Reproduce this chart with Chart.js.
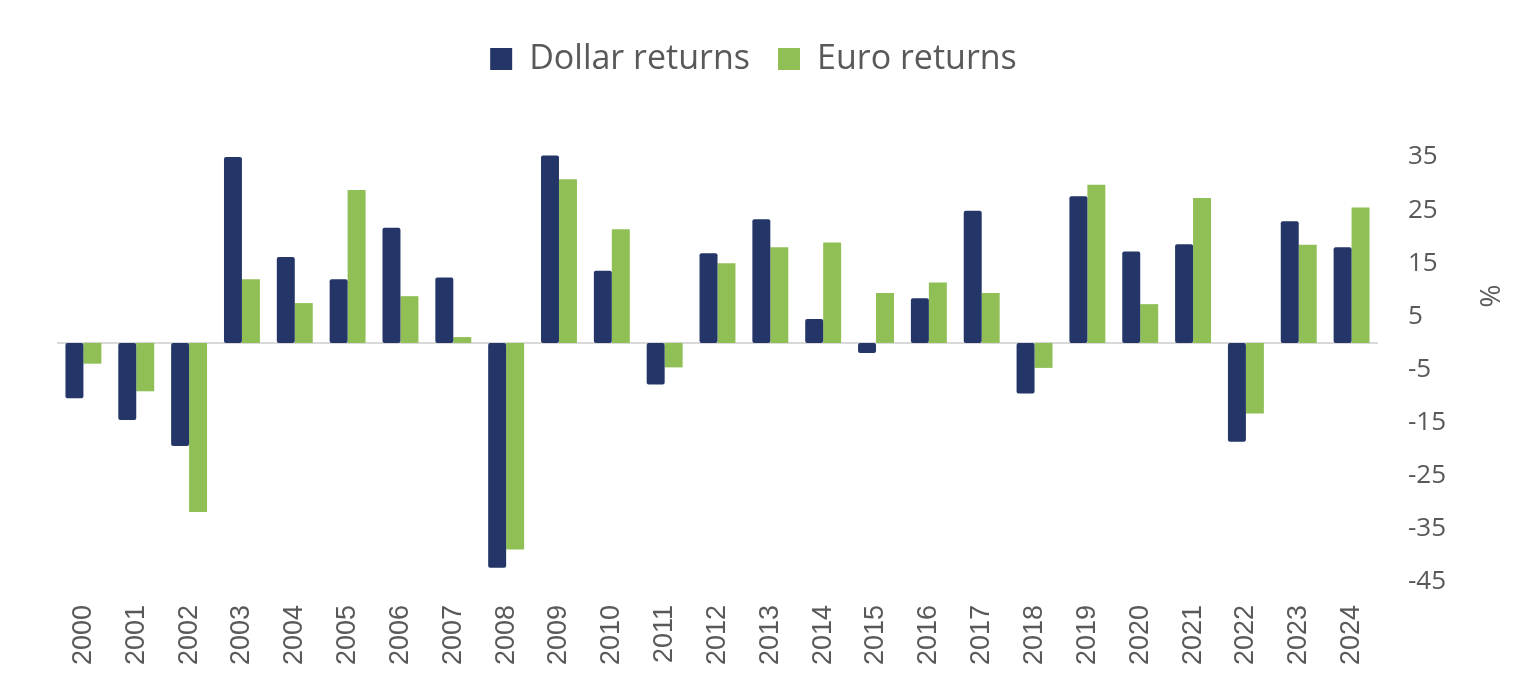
<!DOCTYPE html>
<html>
<head>
<meta charset="utf-8">
<script src="https://cdn.jsdelivr.net/npm/chart.js@4/dist/chart.umd.min.js"></script>
<style>
    html, body { margin: 0; padding: 0; background: #ffffff; }
    #wrap { width: 1536px; height: 698px; }
</style>
</head>
<body>
<div id="wrap"><canvas id="returnsChart"></canvas></div>
<script>
// Data
const years = ['2000', '2001', '2002', '2003', '2004', '2005', '2006', '2007', '2008', '2009',
    '2010', '2011', '2012', '2013', '2014', '2015', '2016', '2017', '2018', '2019',
    '2020', '2021', '2022', '2023', '2024'];
const dollarReturns = [-10.4, -14.5, -19.4, 35.0, 16.2, 12.0, 21.7, 12.3, -42.3, 35.3,
    13.6, -7.8, 16.9, 23.3, 4.5, -1.9, 8.4, 24.9, -9.5, 27.6,
    17.2, 18.6, -18.6, 22.9, 18.0];
const euroReturns = [-3.9, -9.1, -31.8, 12.0, 7.5, 28.8, 8.8, 1.1, -38.9, 30.8,
    21.4, -4.6, 15.0, 18.0, 18.9, 9.4, 11.4, 9.4, -4.7, 29.8,
    7.3, 27.3, -13.3, 18.5, 25.5];
const yTicks = [35, 25, 15, 5, -5, -15, -25, -35, -45];

const navy = '#243668';
const green = '#8fbf55';
const textGrey = '#595959';

// Push the plot area down below the legend
const legendSpacer = {
    id: 'legendSpacer',
    beforeInit(chart) {
        const originalFit = chart.legend.fit;
        chart.legend.fit = function fit() {
            originalFit.bind(chart.legend)();
            this.height = 143;
        };
    }
};

// Zero line and the "%" axis title
const zeroLine = {
    id: 'zeroLine',
    beforeDatasetsDraw(chart) {
        const { ctx, chartArea, scales } = chart;
        const y = scales.y.getPixelForValue(0);
        ctx.save();
        ctx.strokeStyle = '#d9d9d9';
        ctx.lineWidth = 2;
        ctx.beginPath();
        ctx.moveTo(chartArea.left, y);
        ctx.lineTo(chartArea.right, y);
        ctx.stroke();
        ctx.restore();
    },
    afterDraw(chart) {
        const { ctx, scales } = chart;
        ctx.save();
        ctx.translate(scales.y.right + 38, scales.y.getPixelForValue(8.8));
        ctx.rotate(Math.PI / 2);
        ctx.fillStyle = textGrey;
        ctx.font = '28px "Open Sans"';
        ctx.textAlign = 'center';
        ctx.textBaseline = 'middle';
        ctx.fillText('%', 0, 0);
        ctx.restore();
    }
};

const ctx = document.getElementById('returnsChart').getContext('2d');
const chart = new Chart(ctx, {
    type: 'bar',
    data: {
        labels: years,
        datasets: [{
            label: 'Dollar returns',
            data: dollarReturns,
            backgroundColor: navy,
            borderRadius: 2,
            borderSkipped: false,
            categoryPercentage: 0.68,
            barPercentage: 1.0,
            clip: false
        }, {
            label: 'Euro returns',
            data: euroReturns,
            backgroundColor: green,
            borderRadius: 0,
            categoryPercentage: 0.68,
            barPercentage: 1.0,
            clip: false
        }]
    },
    options: {
        responsive: true,
        maintainAspectRatio: false,
        animation: false,
        layout: {
            padding: { top: 14, left: 57, right: 86, bottom: 0 }
        },
        plugins: {
            legend: {
                position: 'top',
                labels: {
                    boxWidth: 22,
                    boxHeight: 22,
                    padding: 28,
                    color: textGrey,
                    font: { family: '"Open Sans"', size: 34 }
                }
            },
            tooltip: { enabled: false }
        },
        scales: {
            x: {
                grid: { display: false, drawTicks: false },
                border: { display: false },
                ticks: {
                    color: textGrey,
                    font: { family: '"Liberation Sans"', size: 27 },
                    minRotation: 90,
                    maxRotation: 90,
                    padding: 23,
                    autoSkip: false
                },
                afterFit(scale) {
                    scale.height = 116;
                }
            },
            y: {
                position: 'right',
                min: -45,
                max: 35,
                grid: { display: false, drawTicks: false },
                border: { display: false },
                afterBuildTicks(scale) {
                    scale.ticks = yTicks.map(v => ({ value: v }));
                },
                ticks: {
                    color: textGrey,
                    font: { family: '"Open Sans"', size: 26 },
                    padding: 30
                },
                afterFit(scale) {
                    scale.width = 72;
                }
            }
        }
    },
    plugins: [legendSpacer, zeroLine]
});
</script>
</body>
</html>
